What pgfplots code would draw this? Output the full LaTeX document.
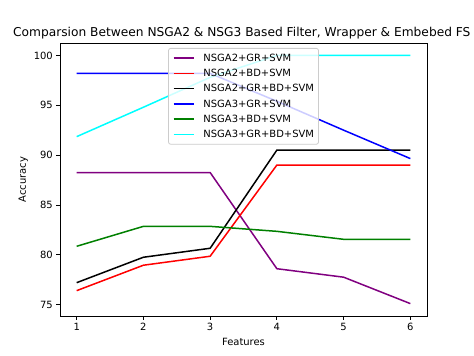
\documentclass[border=0pt]{standalone}
\usepackage{fontspec}
\setmainfont{DejaVu Sans}
\usepackage{pgfplots}
\pgfplotsset{compat=1.18}
\definecolor{mplpurple}{HTML}{800080}
\definecolor{mplgreen}{HTML}{008000}
\definecolor{mplred}{HTML}{FF0000}
\definecolor{mplblue}{HTML}{0000FF}
\definecolor{mplcyan}{HTML}{00FFFF}
\begin{document}
\begin{tikzpicture}[x=1bp,y=1bp]
\useasboundingbox (0,0) rectangle (474,355);
\begin{axis}[
  at={(60bp,39bp)}, anchor=south west,
  scale only axis, width=367bp, height=273bp,
  xmin=0.75, xmax=6.25, ymin=73.855, ymax=101.245,
  xtick={1,2,3,4,5,6}, ytick={75,80,85,90,95,100},
  xtick pos=bottom, ytick pos=left,
  tick align=outside, major tick length=3.6bp,
  every tick/.style={black, line width=0.8bp},
  axis line style={line width=0.8bp},
  /pgf/number format/assume math mode=true,
  ticklabel style={font=\fontsize{10}{12}\selectfont, inner sep=0pt},
  xticklabel style={anchor=north, yshift=-3.4bp},
  yticklabel style={anchor=east, xshift=-3.4bp},
  xlabel={Features},
  ylabel={Accuracy},
  label style={font=\fontsize{10}{12}\selectfont, inner sep=0pt},
  x label style={at={(axis description cs:0.5,-0.1062)}, anchor=base},
  y label style={at={(axis description cs:-0.0932,0.5)}, anchor=base, rotate=0},
  legend style={at={(axis description cs:0.5,0.9817)}, anchor=north,
    font=\fontsize{10}{12}\selectfont, draw=black!20, line width=0.8bp,
    rounded corners=2bp, fill=white, fill opacity=0.8, text opacity=1,
    inner xsep=4.4bp, inner ysep=2bp, row sep=0pt,
    nodes={inner sep=0pt, text height=9.5bp, text depth=3bp, inner ysep=1.4bp},
    /tikz/every odd column/.append style={column sep=9bp}},
  legend cell align=left,
  legend image code/.code={\draw[#1, line width=1.5bp, sharp corners] (0bp,0bp) -- (20bp,0bp);},
  every axis plot/.append style={line width=1.5bp},
  clip=false,
]
\addplot[mplpurple] coordinates {(1,88.25) (2,88.25) (3,88.25) (4,78.6) (5,77.75) (6,75.1)};
\addlegendentry{NSGA2+GR+SVM}
\addplot[mplred] coordinates {(1,76.4) (2,78.95) (3,79.85) (4,89.0) (5,89.0) (6,89.0)};
\addlegendentry{NSGA2+BD+SVM}
\addplot[black] coordinates {(1,77.2) (2,79.75) (3,80.65) (4,90.5) (5,90.5) (6,90.5)};
\addlegendentry{NSGA2+GR+BD+SVM}
\addplot[mplblue] coordinates {(1,98.2) (2,98.2) (3,98.2) (4,95.4) (5,92.5) (6,89.65)};
\addlegendentry{NSGA3+GR+SVM}
\addplot[mplgreen] coordinates {(1,80.85) (2,82.85) (3,82.85) (4,82.35) (5,81.55) (6,81.55)};
\addlegendentry{NSGA3+BD+SVM}
\addplot[mplcyan] coordinates {(1,91.85) (2,94.8) (3,97.8) (4,100) (5,100) (6,100)};
\addlegendentry{NSGA3+GR+BD+SVM}
\node[anchor=base west, inner sep=0pt, font=\fontsize{12.26}{14}\selectfont] at (axis description cs:-0.128,1.0238) {Comparsion Between NSGA2 \& NSG3 Based Filter, Wrapper \& Embebed FS};
\end{axis}
\end{tikzpicture}
\end{document}
